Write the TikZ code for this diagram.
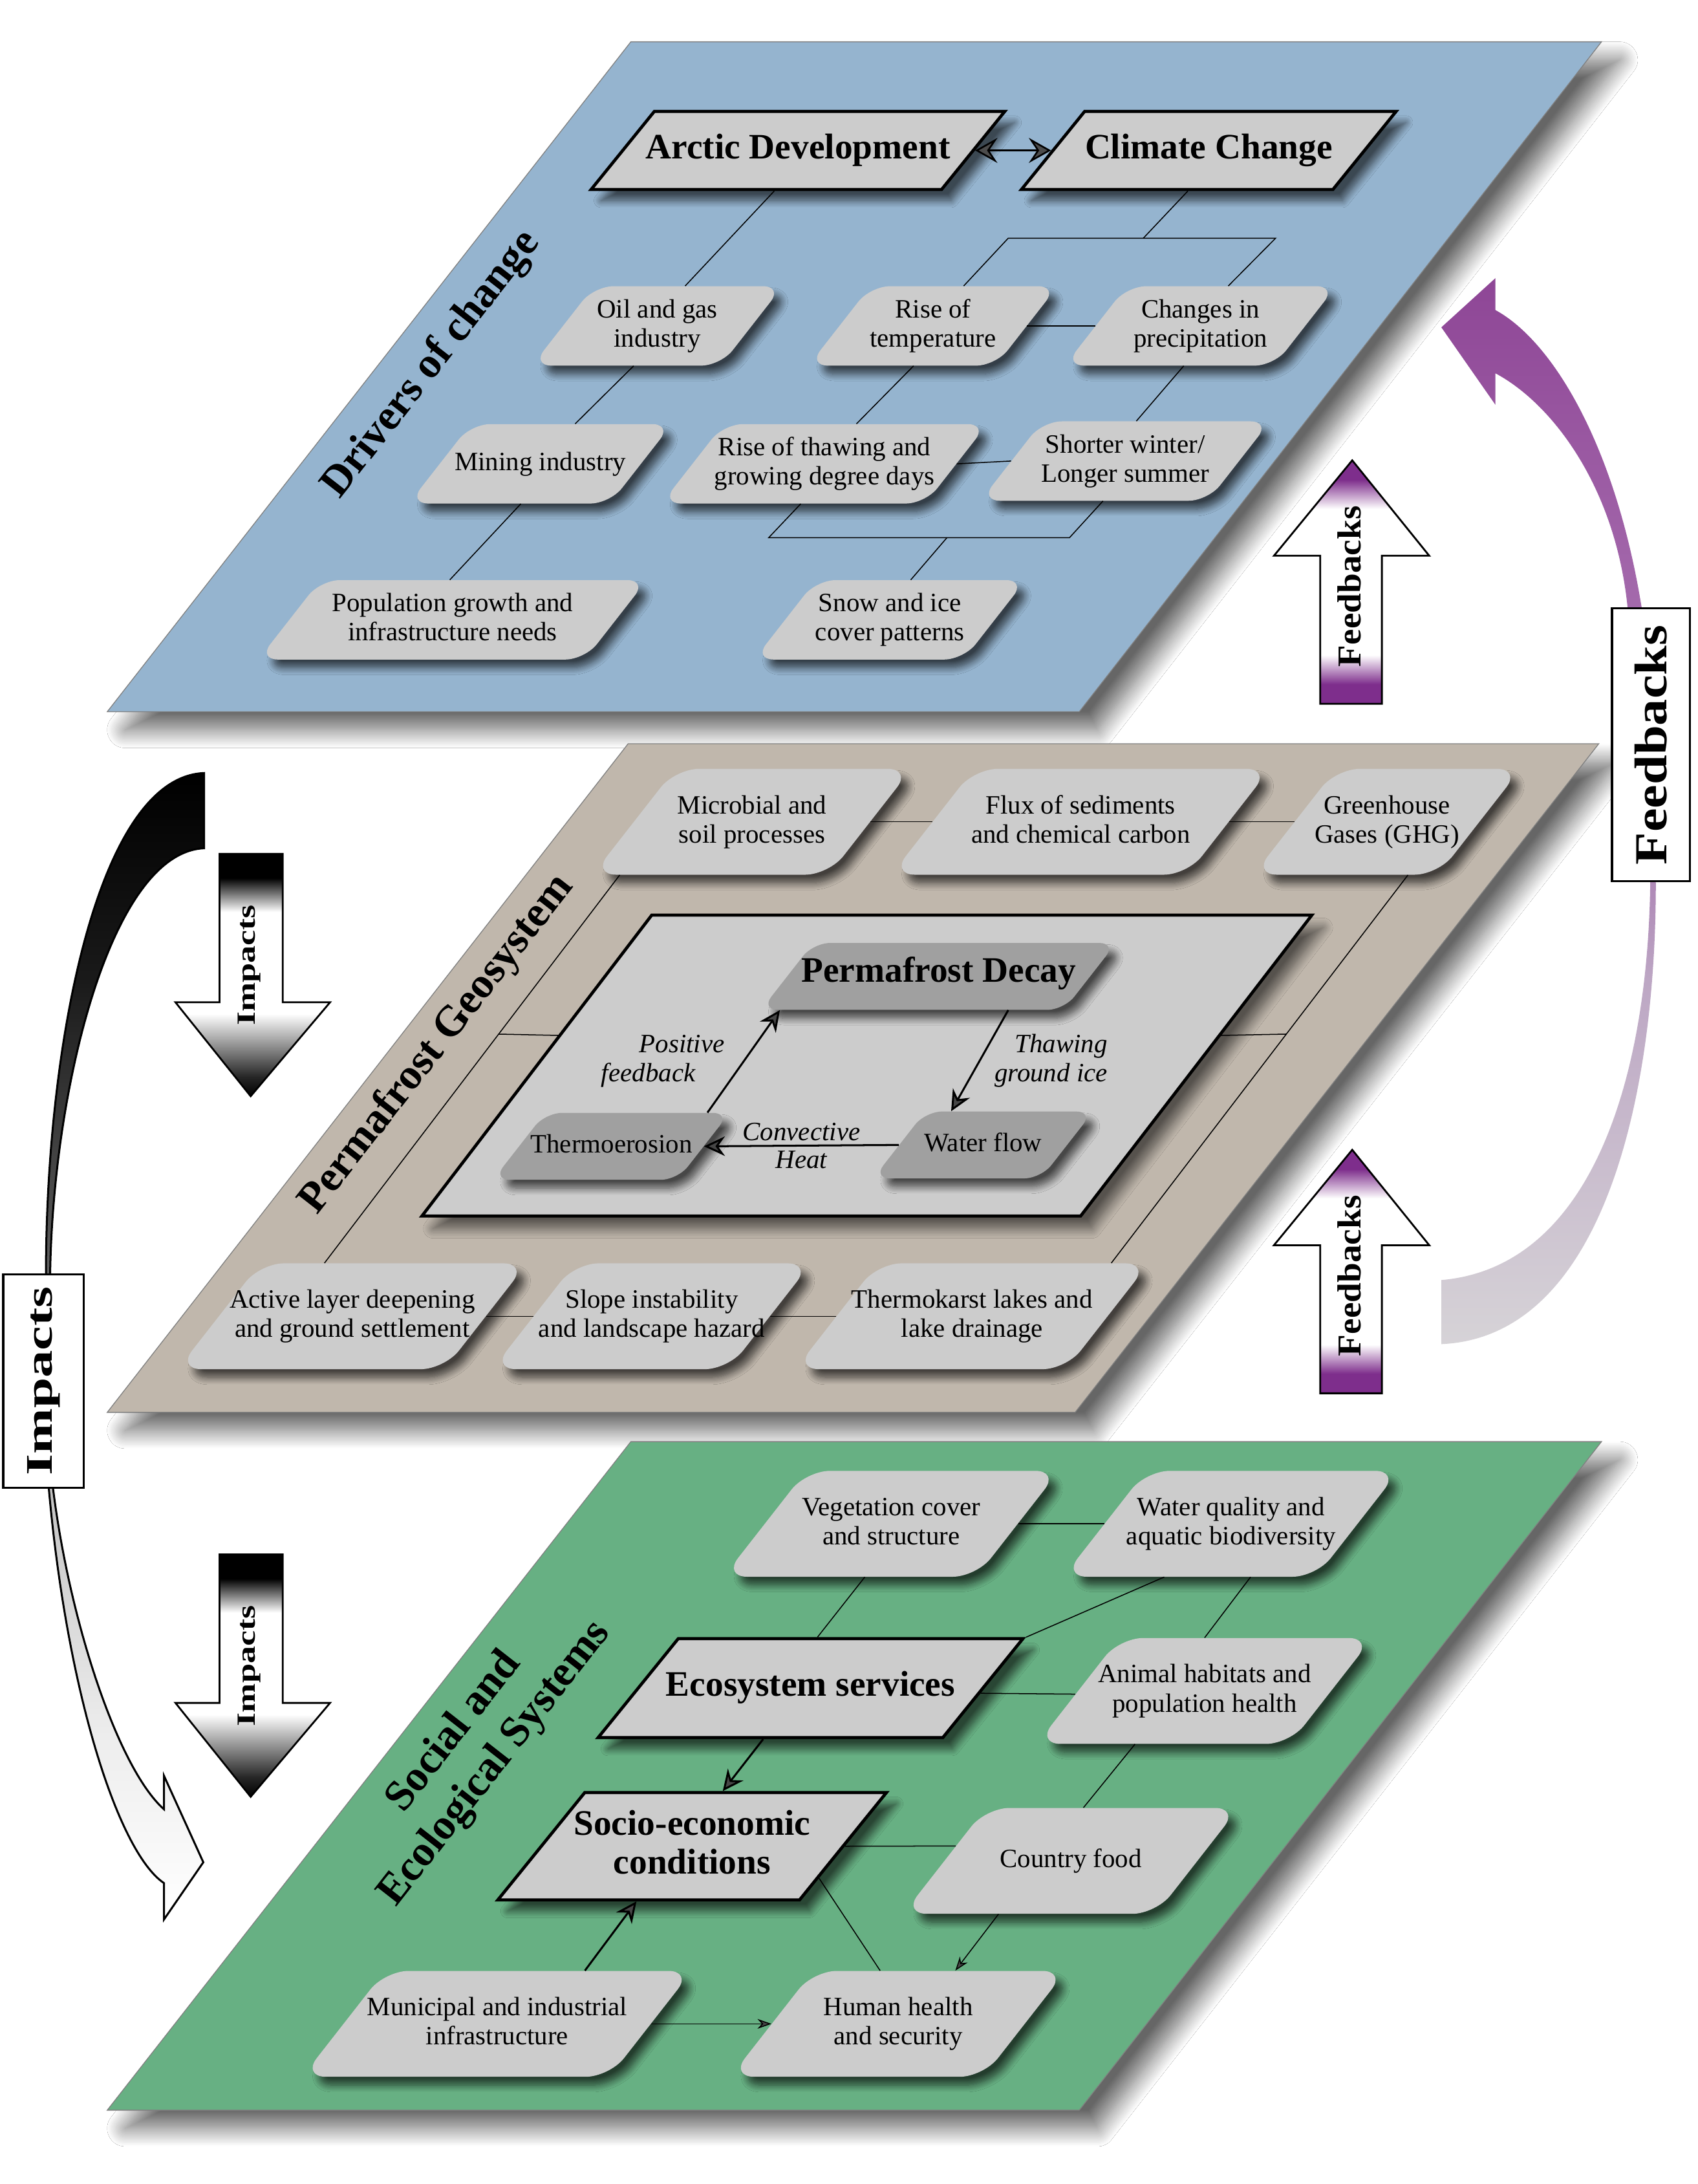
\documentclass[tikz,border=0pt]{standalone}
\usepackage{fontspec}
\setmainfont{Liberation Serif}
\usepackage{graphicx}
\usetikzlibrary{arrows.meta}
\usetikzlibrary{calc}
\usetikzlibrary{shapes.geometric}
\usetikzlibrary{shadows.blur}

\definecolor{driverblue}{RGB}{149,180,207}
\definecolor{geotaupe}{RGB}{192,183,172}
\definecolor{socialgreen}{RGB}{103,176,131}
\definecolor{boxgray}{RGB}{204,204,204}
\definecolor{decaygray}{RGB}{160,160,160}
\definecolor{fbpurple}{RGB}{126,46,140}
\definecolor{fbgrey}{RGB}{214,211,215}
\definecolor{fbmidA}{RGB}{189,167,196}
\definecolor{fbmidB}{RGB}{176,140,184}
\definecolor{fbmidC}{RGB}{162,102,170}
\definecolor{fbtop}{RGB}{142,70,150}

\pgfdeclareverticalshading{impactfade}{100bp}{color(0bp)=(black); color(25bp)=(black); color(29bp)=(black!85); color(42bp)=(white); color(63bp)=(white); color(70bp)=(black); color(100bp)=(black)}
\pgfdeclareverticalshading{feedfade}{100bp}{color(0bp)=(fbpurple); color(25bp)=(fbpurple); color(29bp)=(fbpurple); color(35bp)=(white); color(65bp)=(white); color(71bp)=(fbpurple); color(100bp)=(fbpurple)}
\pgfdeclareverticalshading{impactcurve}{100bp}{color(0bp)=(white); color(25bp)=(white); color(33bp)=(black!7); color(43bp)=(black!22); color(55bp)=(black!67); color(66bp)=(black!90); color(75bp)=(black); color(100bp)=(black)}
\pgfdeclareverticalshading{feedcurve}{100bp}{color(0bp)=(fbgrey); color(25bp)=(fbgrey); color(42bp)=(fbmidA); color(46bp)=(fbmidB); color(61bp)=(fbmidC); color(75bp)=(fbtop); color(100bp)=(fbtop)}

% text lines that do not widen the box round them
\newcommand{\nodelines}[1]{\makebox[0pt]{\begin{tabular}{@{}c@{}}#1\end{tabular}}}

\tikzset{
  panel/.style={draw=black!50, line width=0.6pt,
    blur shadow={shadow xshift=13pt, shadow yshift=-13pt, shadow blur radius=13pt, shadow blur steps=24, shadow opacity=60}},
  leaf/.style={trapezium, trapezium left angle=52, trapezium right angle=128,
    trapezium stretches body, inner sep=0pt, fill=boxgray, rounded corners=14pt,
    minimum height=57pt, text height=33.25pt, text depth=23.75pt, font=\fontsize{19}{21}\selectfont,
    blur shadow={shadow xshift=5pt, shadow yshift=-6pt, shadow blur radius=5pt, shadow blur steps=10, shadow opacity=65}},
  tallleaf/.style={leaf, minimum height=76pt, text height=42.75pt, text depth=33.25pt, rounded corners=17pt},
  decayleaf/.style={leaf, fill=decaygray, minimum height=48pt, text height=28.75pt, text depth=19.25pt, rounded corners=12pt},
  headbox/.style={trapezium, trapezium left angle=51, trapezium right angle=129,
    trapezium stretches body, inner sep=0pt, draw, line width=2.2pt, fill=boxgray,
    font=\bfseries\fontsize{25.7}{28}\selectfont,
    blur shadow={shadow xshift=7pt, shadow yshift=-8pt, shadow blur radius=5pt, shadow blur steps=10, shadow opacity=60}},
  paneltitle/.style={rotate=52, font=\bfseries\fontsize{31}{37}\selectfont, align=center},
  link/.style={line width=0.7pt},
  flow/.style={->, line width=1.4pt},
  thinflow/.style={-{Stealth[length=10pt,width=7pt]}, line width=0.7pt},
  note/.style={font=\itshape\fontsize{19}{21}\selectfont, inner sep=0pt},
  blockarrow/.style={draw=black, line width=1.3pt},
}

\begin{document}
\begin{tikzpicture}[x=1pt, y=-1pt, >={Stealth[length=15pt,width=14pt,inset=5pt]}]
  \useasboundingbox (0,0) rectangle (1219,1568);
  \fill[white] (0,0) rectangle (1219,1568);

  % the three layers
  \path[panel, fill=driverblue] (453,30) -- (1150,30) -- (775,511) -- (77,511) -- cycle;
  \path[panel, fill=geotaupe] (451,534) -- (1148,534) -- (772,1014) -- (77,1014) -- cycle;
  \path[panel, fill=socialgreen] (453,1035) -- (1150,1035) -- (775,1515) -- (77,1515) -- cycle;

  \node[paneltitle] (drivers) at (310,262) {Drivers of change};
  \node[paneltitle] (geosystem) at (314,750) {Permafrost Geosystem};
  \node[paneltitle] (socecol) at (341,1255) {Social and\\Ecological Systems};

  % drivers of change
  \node[headbox, minimum width=297pt, minimum height=56pt, text height=34.4pt, text depth=21.6pt] (arcdev) at (573,108) {\nodelines{Arctic Development}};
  \node[headbox, minimum width=269pt, minimum height=56pt, text height=34.4pt, text depth=21.6pt] (climate) at (868,108) {\nodelines{Climate Change}};
  \node[leaf, minimum width=180pt] (oilgas) at (472,234) {\nodelines{Oil and gas\\industry}};
  \node[leaf, minimum width=179pt] (risetemp) at (670,234) {\nodelines{Rise of\\temperature}};
  \node[leaf, minimum width=195pt] (precip) at (862,234) {\nodelines{Changes in\\precipitation}};
  \node[leaf, minimum width=189pt] (mining) at (388,333) {\nodelines{Mining industry}};
  \node[leaf, minimum width=234pt] (thawdays) at (592,333) {\nodelines{Rise of thawing and\\growing degree days}};
  \node[leaf, minimum width=208pt] (season) at (808,331) {\nodelines{Shorter winter/\\Longer summer}};
  \node[leaf, minimum width=279pt] (population) at (325,445) {\nodelines{Population growth and\\infrastructure needs}};
  \node[leaf, minimum width=195pt] (snowice) at (639,445) {\nodelines{Snow and ice\\cover patterns}};

  \coordinate (climjoin) at (821,171);
  \coordinate (climbarL) at (724,171);
  \coordinate (climbarR) at (916,171);
  \coordinate (snowbarL) at (552,386);
  \coordinate (snowbarR) at (768,386);
  \coordinate (snowjoin) at (680,386);

  \draw [{Stealth[length=16pt,width=18pt,inset=6pt]}-{Stealth[length=16pt,width=18pt,inset=6pt]}, line width=1.2pt]
    ($(arcdev.top right corner)!0.5!(arcdev.bottom right corner)$) -- ($(climate.top left corner)!0.5!(climate.bottom left corner)$);
  \path [link] ([xshift=-17pt]arcdev.south) edge ([xshift=20pt]oilgas.north);
  \path [link] ([xshift=-17pt]oilgas.south) edge ([xshift=25pt]mining.north);
  \path [link] ([xshift=-14pt]mining.south) edge ([xshift=-2pt]population.north);
  \path [link] ([xshift=-15pt]climate.south) edge (climjoin);
  \draw [link] ([xshift=22pt]risetemp.north) -- (climbarL) -- (climbarR) -- ([xshift=20pt]precip.north);
  \path [link] ($(risetemp.top right corner)!0.5!(risetemp.bottom right corner)$) edge ($(precip.top left corner)!0.5!(precip.bottom left corner)$);
  \path [link] ([xshift=-14pt]risetemp.south) edge ([xshift=23pt]thawdays.north);
  \path [link] ([xshift=-12pt]precip.south) edge ([xshift=8pt]season.north);
  \path [link] ($(thawdays.top right corner)!0.5!(thawdays.bottom right corner)$) edge ($(season.top left corner)!0.5!(season.bottom left corner)$);
  \draw [link] ([xshift=-17pt]thawdays.south) -- (snowbarL) -- (snowbarR) -- ([xshift=-16pt]season.south);
  \path [link] (snowjoin) edge ([xshift=15pt]snowice.north);

  % permafrost geosystem
  \coordinate (planeTL) at (468,657);
  \coordinate (planeTR) at (942,657);
  \coordinate (planeBR) at (776,873);
  \coordinate (planeBL) at (303,873);
  \path[draw, line width=2.2pt, fill=boxgray,
    blur shadow={shadow xshift=8pt, shadow yshift=-9pt, shadow blur radius=7pt, shadow blur steps=12, shadow opacity=55}]
    (planeTL) -- (planeTR) -- (planeBR) -- (planeBL) -- cycle;

  \node[tallleaf, minimum width=229pt] (microbial) at (540,590) {\nodelines{Microbial and\\soil processes}};
  \node[tallleaf, minimum width=272pt] (flux) at (776,590) {\nodelines{Flux of sediments\\and chemical carbon}};
  \node[tallleaf, minimum width=192pt] (ghg) at (996,590) {\nodelines{Greenhouse\\Gases (GHG)}};
  \node[tallleaf, minimum width=251pt] (activelayer) at (253,945) {\nodelines{Active layer deepening\\and ground settlement}};
  \node[tallleaf, minimum width=229pt] (slope) at (468,945) {\nodelines{Slope instability\\and landscape hazard}};
  \node[tallleaf, minimum width=254pt] (thermokarst) at (698,945) {\nodelines{Thermokarst lakes and\\lake drainage}};

  \node[decayleaf, minimum width=255pt, font=\bfseries\fontsize{25.7}{28}\selectfont] (pfdecay) at (674,701) {\nodelines{Permafrost Decay}};
  \node[decayleaf, minimum width=170pt] (thermo) at (439,823) {\nodelines{Thermoerosion}};
  \node[decayleaf, minimum width=158pt] (water) at (706,822) {\nodelines{Water flow}};

  \coordinate (railtopL) at ([xshift=-95pt]microbial.south);
  \coordinate (railbotL) at ([xshift=-20pt]activelayer.north);
  \coordinate (railtopR) at ([xshift=15pt]ghg.south);
  \coordinate (railbotR) at ([xshift=100pt]thermokarst.north);

  \path [link] ($(microbial.top right corner)!0.5!(microbial.bottom right corner)$) edge ($(flux.top left corner)!0.5!(flux.bottom left corner)$);
  \path [link] ($(flux.top right corner)!0.5!(flux.bottom right corner)$) edge ($(ghg.top left corner)!0.5!(ghg.bottom left corner)$);
  \path [link] (railtopL) edge (railbotL);
  \path [link] (railtopR) edge (railbotR);
  \path [link] ($(railtopL)!0.41!(railbotL)$) edge ($(planeTL)!0.4!(planeBL)$);
  \path [link] ($(railtopR)!0.41!(railbotR)$) edge ($(planeTR)!0.4!(planeBR)$);
  \path [link] ($(activelayer.top right corner)!0.5!(activelayer.bottom right corner)$) edge ($(slope.top left corner)!0.5!(slope.bottom left corner)$);
  \path [link] ($(slope.top right corner)!0.5!(slope.bottom right corner)$) edge ($(thermokarst.top left corner)!0.5!(thermokarst.bottom left corner)$);

  \draw [flow] ([xshift=69pt]thermo.north) -- node[note, left=13pt, align=right] {Positive\\feedback\rule{21pt}{0pt}} ([xshift=-114pt]pfdecay.south);
  \draw [flow] ([xshift=50pt]pfdecay.south) -- node[note, right=10pt, align=right] {Thawing\\ground ice} ([xshift=-23pt]water.north);
  \draw [flow] ($(water.top left corner)!0.5!(water.bottom left corner)$) -- node[note, above=3pt] {Convective} node[note, below=3pt] {Heat} ($(thermo.top right corner)!0.5!(thermo.bottom right corner)$);

  % social and ecological systems
  \node[tallleaf, minimum width=241pt] (vegetation) at (640,1094) {\nodelines{Vegetation cover\\and structure}};
  \node[tallleaf, minimum width=241pt] (waterqual) at (884,1094) {\nodelines{Water quality and\\aquatic biodiversity}};
  \node[headbox, minimum width=305pt, minimum height=71pt, text height=41.9pt, text depth=29.1pt] (ecoserv) at (582,1212) {\nodelines{Ecosystem services}};
  \node[tallleaf, minimum width=241pt] (animal) at (865,1214) {\nodelines{Animal habitats and\\population health}};
  \node[headbox, minimum width=279pt, minimum height=77pt, text height=44.9pt, text depth=32.1pt] (socio) at (497,1325.5) {\nodelines{Socio-economic\\conditions}};
  \node[tallleaf, minimum width=241pt] (countryfood) at (769,1336) {\nodelines{Country food}};
  \node[tallleaf, minimum width=280pt] (municipal) at (357,1453) {\nodelines{Municipal and industrial\\infrastructure}};
  \node[tallleaf, minimum width=241pt] (human) at (645,1453) {\nodelines{Human health\\and security}};

  \path [link] ([xshift=-19pt]vegetation.south) edge ([xshift=5pt]ecoserv.north);
  \path [link] ($(vegetation.top right corner)!0.5!(vegetation.bottom right corner)$) edge ($(waterqual.top left corner)!0.5!(waterqual.bottom left corner)$);
  \path [link] ([xshift=-48pt]waterqual.south) edge (ecoserv.top right corner);
  \path [link] ([xshift=14pt]waterqual.south) edge (animal.north);
  \path [link] ($(ecoserv.top right corner)!0.55!(ecoserv.bottom right corner)$) edge ($(animal.top left corner)!0.53!(animal.bottom left corner)$);
  \path [link] ([xshift=-50pt]animal.south) edge ([xshift=9pt]countryfood.north);
  \path [link] ($(socio.top right corner)!0.5!(socio.bottom right corner)$) edge ($(countryfood.top left corner)!0.36!(countryfood.bottom left corner)$);
  \path [link] ($(socio.top right corner)!0.79!(socio.bottom right corner)$) edge ([xshift=-13pt]human.north);
  \path [flow] ([xshift=-34pt]ecoserv.south) edge ([xshift=22pt]socio.north);
  \path [flow] ([xshift=63pt]municipal.north) edge ([xshift=-40pt]socio.south);
  \path [thinflow] ([xshift=-52pt]countryfood.south) edge ([xshift=41pt]human.north);
  \path [thinflow] ($(municipal.top right corner)!0.5!(municipal.bottom right corner)$) edge ($(human.top left corner)!0.5!(human.bottom left corner)$);

  % impacts, left side
  \shade[shading=impactcurve, draw=black, line width=1.4pt]
    (146.5,555) .. controls (70,558) and (33,750) .. (33,915) -- (35,1068)
    .. controls (48,1215) and (85,1330) .. (117.8,1352) -- (117.8,1378) -- (146,1337)
    -- (117.8,1275) -- (117.8,1299) .. controls (85,1270) and (50,1165) .. (38,1068)
    -- (36,915) .. controls (38,780) and (80,612) .. (146.5,609) -- cycle;
  \node[draw, line width=1.5pt, fill=white, rotate=90, minimum width=153pt, minimum height=58pt,
    font=\bfseries\fontsize{27}{27}\selectfont] (impactsbox) at (31.3,991.5) {\scalebox{1.46}[1]{Impacts}};

  \shade[shading=impactfade, blockarrow] (157.6,613) -- (203,613) -- (203,719.6) -- (237,719.6)
    -- (180,787) -- (126,719.6) -- (157.6,719.6) -- cycle;
  \shade[shading=impactfade, blockarrow] (157.6,1116) -- (203,1116) -- (203,1222.6) -- (237,1222.6)
    -- (180,1290) -- (126,1222.6) -- (157.6,1222.6) -- cycle;
  \node[rotate=90, font=\bfseries\fontsize{18.8}{20}\selectfont] (impactsup) at (179,693) {\scalebox{1.34}[1]{Impacts}};
  \node[rotate=90, font=\bfseries\fontsize{18.8}{20}\selectfont] (impactsdown) at (179,1196) {\scalebox{1.34}[1]{Impacts}};

  % feedbacks, right side
  \shade[shading=feedcurve]
    (1035,235) -- (1073.8,199.7) -- (1073.8,222.6) .. controls (1115,245) and (1160,320) .. (1178.8,436)
    -- (1189,634) .. controls (1189,790) and (1150,960) .. (1035,965) -- (1035,919)
    .. controls (1140,910) and (1183,780) .. (1185,634) -- (1168.7,436)
    .. controls (1160,350) and (1115,290) .. (1073.8,268) -- (1073.8,290.6) -- cycle;
  \node[draw, line width=1.5pt, fill=white, rotate=90, minimum width=196pt, minimum height=56pt,
    font=\bfseries\fontsize{33}{33}\selectfont] (feedbox) at (1185.5,534.8) {\scalebox{1.16}[1]{Feedbacks}};

  \shade[shading=feedfade, blockarrow] (948,505.3) -- (948,399) -- (914.8,399) -- (971,330.5)
    -- (1026.3,399) -- (992.3,399) -- (992.3,505.3) -- cycle;
  \shade[shading=feedfade, blockarrow] (948,1000.3) -- (948,894) -- (914.8,894) -- (971,825.5)
    -- (1026.3,894) -- (992.3,894) -- (992.3,1000.3) -- cycle;
  \node[rotate=90, font=\bfseries\fontsize{24}{24}\selectfont] (feedup) at (969,421) {\scalebox{1.07}[1]{Feedbacks}};
  \node[rotate=90, font=\bfseries\fontsize{24}{24}\selectfont] (feeddown) at (969,916) {\scalebox{1.07}[1]{Feedbacks}};
\end{tikzpicture}
\end{document}
